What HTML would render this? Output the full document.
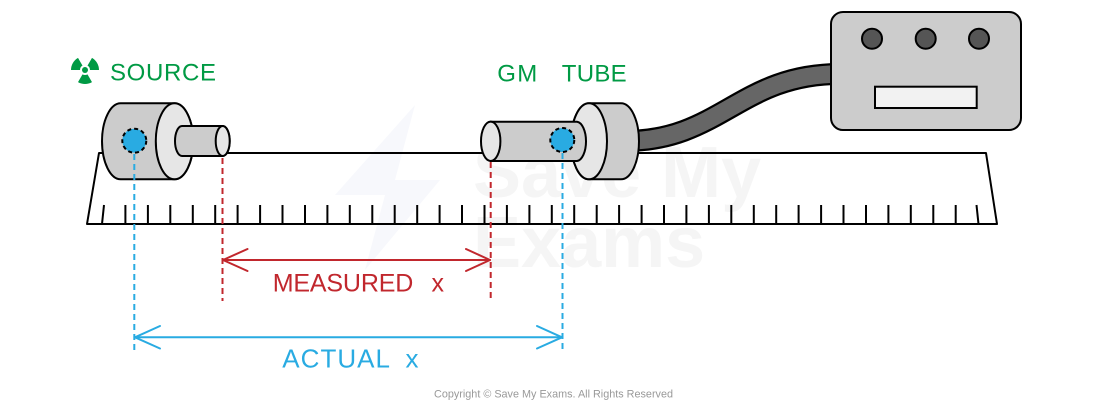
<!DOCTYPE html>
<html>
<head>
<meta charset="utf-8">
<style>
  html, body { margin: 0; padding: 0; background: #ffffff; }
  svg { display: block; }
  text { font-family: "Liberation Sans", "DejaVu Sans", sans-serif; }
</style>
</head>
<body>
<svg width="1093" height="406" viewBox="0 0 1093 406" xmlns="http://www.w3.org/2000/svg">
  <rect x="0" y="0" width="1093" height="406" fill="#ffffff"/>

  <!-- watermark -->
  <polygon points="415,105 335,195 385,195 365,270 440,180 395,180" fill="#f7f8fc"/>
  <text x="473" y="197" font-size="72" font-weight="bold" fill="#f5f5f5">Save My</text>
  <text x="473" y="267" font-size="72" font-weight="bold" fill="#f5f5f5">Exams</text>

  <!-- ruler -->
  <path d="M99,153 L986,153 L997,224 L87,224 Z" fill="none" stroke="#000" stroke-width="2" stroke-linejoin="round"/>
  <g stroke="#000" stroke-width="2">
    <line x1="104" y1="205" x2="102" y2="224"/>
    <line x1="125.4" y1="205" x2="125.4" y2="224"/>
    <line x1="147.9" y1="205" x2="147.9" y2="224"/>
    <line x1="170.3" y1="205" x2="170.3" y2="224"/>
    <line x1="192.8" y1="205" x2="192.8" y2="224"/>
    <line x1="215.2" y1="205" x2="215.2" y2="224"/>
    <line x1="237.6" y1="205" x2="237.6" y2="224"/>
    <line x1="260.1" y1="205" x2="260.1" y2="224"/>
    <line x1="282.5" y1="205" x2="282.5" y2="224"/>
    <line x1="305" y1="205" x2="305" y2="224"/>
    <line x1="327.4" y1="205" x2="327.4" y2="224"/>
    <line x1="349.8" y1="205" x2="349.8" y2="224"/>
    <line x1="372.3" y1="205" x2="372.3" y2="224"/>
    <line x1="394.7" y1="205" x2="394.7" y2="224"/>
    <line x1="417.2" y1="205" x2="417.2" y2="224"/>
    <line x1="439.6" y1="205" x2="439.6" y2="224"/>
    <line x1="462" y1="205" x2="462" y2="224"/>
    <line x1="484.5" y1="205" x2="484.5" y2="224"/>
    <line x1="506.9" y1="205" x2="506.9" y2="224"/>
    <line x1="529.4" y1="205" x2="529.4" y2="224"/>
    <line x1="551.8" y1="205" x2="551.8" y2="224"/>
    <line x1="574.2" y1="205" x2="574.2" y2="224"/>
    <line x1="596.7" y1="205" x2="596.7" y2="224"/>
    <line x1="619.1" y1="205" x2="619.1" y2="224"/>
    <line x1="641.6" y1="205" x2="641.6" y2="224"/>
    <line x1="664" y1="205" x2="664" y2="224"/>
    <line x1="686.4" y1="205" x2="686.4" y2="224"/>
    <line x1="708.9" y1="205" x2="708.9" y2="224"/>
    <line x1="731.3" y1="205" x2="731.3" y2="224"/>
    <line x1="753.8" y1="205" x2="753.8" y2="224"/>
    <line x1="776.2" y1="205" x2="776.2" y2="224"/>
    <line x1="798.6" y1="205" x2="798.6" y2="224"/>
    <line x1="821.1" y1="205" x2="821.1" y2="224"/>
    <line x1="843.5" y1="205" x2="843.5" y2="224"/>
    <line x1="866" y1="205" x2="866" y2="224"/>
    <line x1="888.4" y1="205" x2="888.4" y2="224"/>
    <line x1="910.8" y1="205" x2="910.8" y2="224"/>
    <line x1="933.3" y1="205" x2="933.3" y2="224"/>
    <line x1="955.7" y1="205" x2="955.7" y2="224"/>
    <line x1="976.5" y1="205" x2="978.5" y2="224"/>
  </g>

  <!-- cable -->
  <path d="M625,141 C720,141 740,74 840,74" fill="none" stroke="#000" stroke-width="22"/>
  <path d="M625,141 C720,141 740,74 840,74" fill="none" stroke="#666" stroke-width="17.5"/>

  <!-- counter box -->
  <rect x="831" y="12" width="190" height="118" rx="12" ry="12" fill="#cccccc" stroke="#000" stroke-width="2"/>
  <circle cx="872" cy="38.7" r="10" fill="#555" stroke="#000" stroke-width="2"/>
  <circle cx="925.7" cy="38.7" r="10" fill="#555" stroke="#000" stroke-width="2"/>
  <circle cx="979" cy="38.7" r="10" fill="#555" stroke="#000" stroke-width="2"/>
  <rect x="875" y="86.7" width="101.7" height="21.3" fill="#f2f2f2" stroke="#000" stroke-width="2"/>

  <!-- SOURCE: large cylinder -->
  <path d="M120.7,103.3 L174.5,103.3 A18.7,38 0 0 1 174.5,179.3 L120.7,179.3 A18.7,38 0 0 1 120.7,103.3 Z" fill="#cccccc" stroke="#000" stroke-width="2"/>
  <ellipse cx="174.5" cy="141.3" rx="18.7" ry="38" fill="#e6e6e6" stroke="#000" stroke-width="2"/>
  <!-- SOURCE: small cylinder -->
  <path d="M182,126 L222.7,126 A7,15 0 0 1 222.7,156 L182,156 A7,15 0 0 1 182,126 Z" fill="#cccccc" stroke="#000" stroke-width="2"/>
  <ellipse cx="222.7" cy="141" rx="7" ry="15" fill="#e6e6e6" stroke="#000" stroke-width="2"/>
  <!-- source dot -->
  <circle cx="134.3" cy="140.7" r="12" fill="#29abe2" stroke="#000" stroke-width="2" stroke-dasharray="4 3"/>

  <!-- GM big cylinder -->
  <path d="M589,103.3 L621,103.3 A18,38 0 0 1 621,179.3 L589,179.3 A18,38 0 0 1 589,103.3 Z" fill="#cccccc" stroke="#000" stroke-width="2"/>
  <ellipse cx="589" cy="141.3" rx="18" ry="38" fill="#e6e6e6" stroke="#000" stroke-width="2"/>
  <!-- GM tube -->
  <path d="M490.7,121.7 L577,121.7 A9.7,19.7 0 0 1 577,161 L490.7,161 Z" fill="#cccccc" stroke="#000" stroke-width="2"/>
  <ellipse cx="490.7" cy="141.3" rx="9.7" ry="19.7" fill="#e6e6e6" stroke="#000" stroke-width="2"/>
  <circle cx="562.3" cy="140" r="12" fill="#29abe2" stroke="#000" stroke-width="2" stroke-dasharray="4 3"/>

  <!-- dashed guide lines -->
  <g stroke-width="2" stroke-dasharray="6 4" fill="none">
    <line x1="134.3" y1="154" x2="134.3" y2="353" stroke="#29abe2"/>
    <line x1="562.5" y1="153" x2="562.5" y2="353" stroke="#29abe2"/>
    <line x1="222.5" y1="158" x2="222.5" y2="301" stroke="#c1272d"/>
    <line x1="490.7" y1="162" x2="490.7" y2="301" stroke="#c1272d"/>
  </g>

  <!-- measured arrow -->
  <g stroke="#c1272d" stroke-width="2" fill="none" stroke-linecap="round" stroke-linejoin="round">
    <line x1="223" y1="260" x2="490" y2="260"/>
    <polyline points="247.5,249 223,260 247.5,271"/>
    <polyline points="466,249 490,260 466,271"/>
  </g>
  <!-- actual arrow -->
  <g stroke="#29abe2" stroke-width="2" fill="none" stroke-linecap="round" stroke-linejoin="round">
    <line x1="135" y1="337.3" x2="562" y2="337.3"/>
    <polyline points="160,326 135,337.3 160,348.5"/>
    <polyline points="537,326 562,337.3 537,348.5"/>
  </g>

  <!-- radiation symbol -->
  <g fill="#009a44">
    <path d="M87.5,65.67 L92,57.88 A14,14 0 0 1 99,70 L90,70 A5,5 0 0 0 87.5,65.67 Z"/>
    <path d="M80,70 L71,70 A14,14 0 0 1 78,57.88 L82.5,65.67 A5,5 0 0 0 80,70 Z"/>
    <path d="M87.5,74.33 L92,82.12 A14,14 0 0 1 78,82.12 L82.5,74.33 A5,5 0 0 0 87.5,74.33 Z"/>
    <circle cx="85" cy="70" r="3"/>
  </g>

  <!-- labels -->
  <text x="110" y="80.7" font-size="24" fill="#009a44" textLength="106" lengthAdjust="spacing">SOURCE</text>
  <text x="497.3" y="81.7" font-size="24" fill="#009a44" textLength="40" lengthAdjust="spacing">GM</text>
  <text x="561.7" y="81.7" font-size="24" fill="#009a44" textLength="65" lengthAdjust="spacing">TUBE</text>

  <text x="272.7" y="291.7" font-size="25" fill="#c1272d" textLength="140.6" lengthAdjust="spacing">MEASURED</text>
  <text x="431.5" y="291.7" font-size="25" fill="#c1272d">x</text>

  <text x="282.3" y="367.3" font-size="26" fill="#29abe2" textLength="107.7" lengthAdjust="spacing">ACTUAL</text>
  <text x="405.5" y="367.3" font-size="26" fill="#29abe2">x</text>

  <text x="434" y="397.5" font-size="11" fill="#999999" textLength="239" lengthAdjust="spacingAndGlyphs">Copyright © Save My Exams. All Rights Reserved</text>
</svg>
</body>
</html>
